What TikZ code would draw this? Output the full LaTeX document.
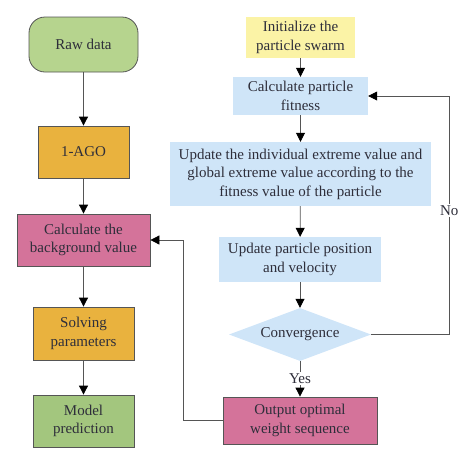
\documentclass[tikz,border=0pt]{standalone}
\usepackage{fontspec}
\setmainfont{Liberation Serif}
\usetikzlibrary{shapes.geometric,arrows.meta}
\definecolor{rawgreen}{HTML}{B6D48E}
\definecolor{modelgreen}{HTML}{A3C67E}
\definecolor{agoorange}{HTML}{E9B23E}
\definecolor{bgpink}{HTML}{D4739A}
\definecolor{inityellow}{HTML}{FBF3A6}
\definecolor{psoblue}{HTML}{CFE5F8}
\definecolor{edgegray}{HTML}{555555}
\definecolor{textgray}{HTML}{2E2E3A}
\tikzset{
  box/.style={draw=edgegray, line width=0.8pt, inner sep=0pt, align=center,
    text=textgray, font=\fontsize{15}{18.5}\selectfont},
  flat/.style={inner sep=0pt, align=center, text=textgray,
    font=\fontsize{15}{18.5}\selectfont},
  link/.style={draw=edgegray, line width=0.8pt,
    -{Triangle[width=9pt,length=9pt,color=black]}},
  tag/.style={fill=white, inner sep=1.5pt, text=textgray,
    font=\fontsize{15}{18.5}\selectfont}
}
\begin{document}
\begin{tikzpicture}[x=1pt,y=-1pt]
    \useasboundingbox (0,0) rectangle (474,464);
    %% Grey model column
    \node[box,rounded corners=16pt,fill=rawgreen,minimum width=109pt,minimum height=55pt] (raw) at (83.5,44.5) {Raw data};
    \node[box,fill=agoorange,minimum width=91pt,minimum height=52pt] (ago) at (83.5,152) {1-AGO};
    \node[box,fill=bgpink,minimum width=133pt,minimum height=52pt] (bg) at (83.5,240) {Calculate the\\background value};
    \node[box,fill=agoorange,minimum width=101pt,minimum height=53pt] (solve) at (83.5,333.5) {Solving\\parameters};
    \node[box,fill=modelgreen,minimum width=101pt,minimum height=52pt] (model) at (83.5,421) {Model\\prediction};
    %% Particle swarm column
    \node[flat,fill=inityellow,minimum width=109pt,minimum height=41pt] (init) at (300.5,37.5) {Initialize the\\particle swarm};
    \node[flat,fill=psoblue,minimum width=135pt,minimum height=38pt] (fit) at (300.5,96) {Calculate particle\\fitness};
    \node[flat,fill=psoblue,minimum width=261pt,minimum height=64pt] (extreme) at (300.5,174) {Update the individual extreme value and\\global extreme value according to the\\fitness value of the particle};
    \node[flat,fill=psoblue,minimum width=162pt,minimum height=45pt] (move) at (300,259.5) {Update particle position\\and velocity};
    \node[flat,diamond,aspect=2.68,fill=psoblue,minimum width=142pt,minimum height=53pt] (conv) at (300,334.5) {Convergence};
    \node[box,fill=bgpink,minimum width=154pt,minimum height=47pt] (best) at (300,420.5) {Output optimal\\weight sequence};
    %% Arrows
    \draw[link] (raw) -- (ago);
    \draw[link] (ago) -- (bg);
    \draw[link] (bg) -- (solve);
    \draw[link] (solve) -- (model);
    \draw[link] (init) -- (fit);
    \draw[link] (fit) -- (extreme);
    \draw[link] (extreme) -- (move);
    \draw[link] (move) -- (conv);
    \draw[link] (conv) -- node[tag] {Yes} (best);
    %% Loops
    \draw[link] (conv.east) -- ++(78,0) |- node[tag,pos=0.26] {No} (fit.east);
    \draw[link] (best.west) -- ++(-39,0) |- (bg.east);
\end{tikzpicture}
\end{document}
